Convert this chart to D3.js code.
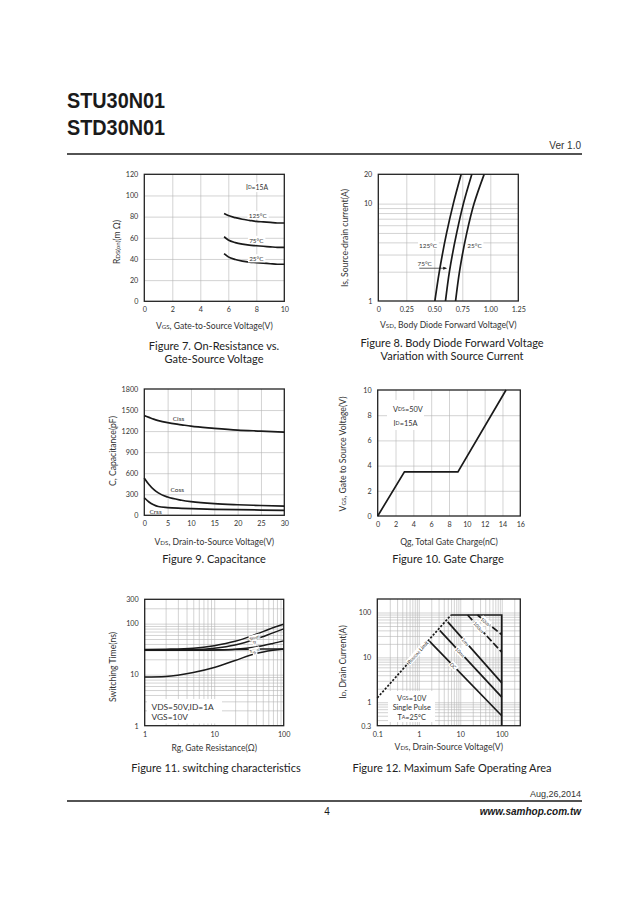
<!DOCTYPE html>
<html>
<head>
<meta charset="utf-8">
<script src="https://cdn.jsdelivr.net/npm/d3@7"></script>
<style>
  body { margin: 0; background: #fff; }
  svg { display: block; }
</style>
</head>
<body>
<svg id="page" width="638" height="903"></svg>
<script>
// ---------- data ----------
// Fig 7  RDS(on) vs VGS
const onVgs = [5.7, 6.0, 6.5, 7.0, 7.5, 8.0, 8.5, 9.0, 9.5, 10]
const onR125 = [83, 81, 79, 77.5, 76.5, 75.5, 75, 74.5, 74, 74]
const onR75 = [61, 58, 55.5, 54, 53, 52.5, 52, 51.5, 51, 51]
const onR25 = [45, 42, 39.5, 38, 37, 36.5, 36, 35.5, 35, 35]

// Fig 8  body diode
const diodeIs = [1, 2, 5, 10, 20]
const diodeV125 = [0.505, 0.545, 0.61, 0.67, 0.74]
const diodeV75 = [0.60, 0.635, 0.70, 0.76, 0.835]
const diodeV25 = [0.69, 0.725, 0.79, 0.855, 0.945]

// Fig 9  capacitance
const capVds = [0, 1, 2, 3, 5, 8, 10, 15, 20, 25, 30]
const capCiss = [1420, 1395, 1370, 1350, 1320, 1290, 1270, 1240, 1215, 1200, 1185]
const capCoss = [530, 440, 370, 320, 260, 215, 195, 165, 150, 140, 130]
const capCrss = [250, 190, 150, 125, 110, 100, 95, 85, 80, 75, 70]

// Fig 10  gate charge
const gateQg = [0, 3.0, 9.0, 14.4]
const gateVgs = [0, 3.5, 3.5, 10]

// Fig 11  switching
const swRg = [1, 2, 5, 10, 20, 40, 70, 100]
const swTdOff = [31, 31.5, 33, 37, 45, 62, 83, 97]
const swTf = [30, 30.5, 31, 33, 38, 50, 66, 79]
const swTdOn = [30, 30, 30, 30.5, 31.5, 35, 41, 46]
const swFlat = [30.5, 30.5, 30.5, 30.5, 31, 31.5, 32, 32]
const swTr = [9, 9.2, 11, 13.8, 19, 26, 30, 32]
const swNames = ['Td(off)', 'Tf', 'Td(on)', 'Tr']

// Fig 12  SOA
const soaLimitV = [0.1, 6.0]
const soaLimitI = [1.25, 88]
const soaMaxI = 88
const soaMaxV = 100
const soaNames = ['10us', '100us', '1ms', '10ms', 'DC']
const soaStartV = [26, 15, 5, 3.2, 1.8]
const soaStartI = [88, 88, 62, 40, 23]
const soaEndI = [32, 13, 2.7, 1.3, 0.5]

// ---------- page ----------
const svg = d3.select('#page')
const FONT = 'Lato, "Open Sans", sans-serif'
const GRID = '#b5b5b5'
const INK = '#1a1a1a'
const TITLE = 8.6

svg.append('rect').attr('width', 638).attr('height', 903).attr('fill', '#fff')

// header / footer
const head = svg.append('g').attr('font-family', '"Liberation Sans", Arial, sans-serif').attr('fill', INK)
head.append('text').attr('x', 67).attr('y', 108).attr('font-size', 21.5).attr('font-weight', 'bold')
  .attr('textLength', 98).attr('lengthAdjust', 'spacingAndGlyphs').text('STU30N01')
head.append('text').attr('x', 67).attr('y', 135).attr('font-size', 21.5).attr('font-weight', 'bold')
  .attr('textLength', 98).attr('lengthAdjust', 'spacingAndGlyphs').text('STD30N01')
head.append('text').attr('x', 581).attr('y', 149).attr('font-size', 10).attr('text-anchor', 'end')
  .attr('fill', '#333').text('Ver 1.0')
head.append('line').attr('x1', 67).attr('x2', 582).attr('y1', 154).attr('y2', 154)
  .attr('stroke', INK).attr('stroke-width', 1.6)
head.append('text').attr('x', 581).attr('y', 797).attr('font-size', 9).attr('text-anchor', 'end')
  .attr('fill', '#333').text('Aug,26,2014')
head.append('line').attr('x1', 67).attr('x2', 582).attr('y1', 801).attr('y2', 801)
  .attr('stroke', INK).attr('stroke-width', 1.6)
head.append('text').attr('x', 327).attr('y', 815).attr('font-size', 10).attr('text-anchor', 'middle').text('4')
head.append('text').attr('x', 581).attr('y', 815).attr('font-size', 10).attr('text-anchor', 'end')
  .attr('font-weight', 'bold').attr('font-style', 'italic').text('www.samhop.com.tw')

/**
 * 写入带下标的文字
 * parts: 字符串为普通文字，{s: '..'} 为小号下标
 */
function rich(sel, parts, size) {
  parts.forEach(p => {
    if (typeof p === 'string') sel.append('tspan').text(p)
    else sel.append('tspan').attr('font-size', size * 0.72).text(p.s)
  })
  return sel
}

// 文字后面垫白底，把网格线挡住
function backed(g, txt, pad) {
  const b = txt.node().getBBox()
  g.insert('rect', () => txt.node())
    .attr('x', b.x - pad).attr('y', b.y - pad * 0.5)
    .attr('width', b.width + pad * 2).attr('height', b.height + pad)
    .attr('fill', '#fff')
    .attr('transform', txt.attr('transform'))
}

/**
 * 绘制一个图框：网格、刻度文字、边框、坐标轴标题、图注
 */
function panel(opt) {
  const { x, y } = opt
  const [xl, xr] = x.range()
  const [yb, yt] = y.range()
  const g = svg.append('g').attr('font-family', FONT).attr('fill', INK)

  // 网格
  g.append('g').attr('transform', `translate(0,${yb})`)
    .call(d3.axisBottom(x).tickValues(opt.xGrid).tickSize(yt - yb).tickFormat(''))
    .call(s => s.select('.domain').remove())
    .call(s => s.selectAll('line').attr('stroke', GRID).attr('stroke-width', 0.6))
  g.append('g').attr('transform', `translate(${xl},0)`)
    .call(d3.axisLeft(y).tickValues(opt.yGrid).tickSize(xl - xr).tickFormat(''))
    .call(s => s.select('.domain').remove())
    .call(s => s.selectAll('line').attr('stroke', GRID).attr('stroke-width', 0.6))

  // 刻度文字
  g.append('g').attr('transform', `translate(0,${yb})`)
    .call(d3.axisBottom(x).tickValues(opt.xTicks).tickSize(0).tickPadding(6).tickFormat(opt.xFmt || (d => d)))
    .call(s => s.select('.domain').remove())
    .call(s => s.selectAll('text').attr('font-size', 7.2).attr('font-family', FONT).attr('fill', '#333'))
  g.append('g').attr('transform', `translate(${xl},0)`)
    .call(d3.axisLeft(y).tickValues(opt.yTicks).tickSize(0).tickPadding(6).tickFormat(opt.yFmt || (d => d)))
    .call(s => s.select('.domain').remove())
    .call(s => s.selectAll('text').attr('font-size', 7.2).attr('font-family', FONT).attr('fill', '#333'))

  // 边框
  g.append('rect').attr('x', xl).attr('y', yt).attr('width', xr - xl).attr('height', yb - yt)
    .attr('fill', 'none').attr('stroke', '#222').attr('stroke-width', 1.3)

  // 标题
  const cx = (xl + xr) / 2
  rich(g.append('text').attr('x', cx).attr('y', opt.xTitleY).attr('font-size', TITLE)
    .attr('text-anchor', 'middle').attr('fill', '#333'), opt.xTitle, TITLE)
  rich(g.append('text').attr('transform', `translate(${opt.yTitleX},${opt.yTitleY}) rotate(-90)`)
    .attr('font-size', TITLE).attr('text-anchor', 'middle').attr('fill', '#333'), opt.yTitle, TITLE)
  opt.caption.forEach((c, i) => {
    g.append('text').attr('x', opt.capX).attr('y', opt.capY + i * 13).attr('font-size', 11)
      .attr('text-anchor', 'middle').attr('fill', '#222').text(c)
  })

  // 画线的图层
  g.plot = g.append('g')
  return g
}

function curve(g, x, y, xs, ys, opt = {}) {
  const line = d3.line().x(d => x(d[0])).y(d => y(d[1])).curve(opt.curve || d3.curveMonotoneX)
  return g.append('path').datum(d3.zip(xs, ys)).attr('d', line)
    .attr('fill', 'none').attr('stroke', INK).attr('stroke-width', opt.w || 1.7)
    .attr('stroke-dasharray', opt.dash || null).attr('stroke-linecap', 'butt')
}

function label(g, px, py, parts, size, opt = {}) {
  const t = g.append('text').attr('x', px).attr('y', py).attr('font-size', size)
    .attr('text-anchor', opt.anchor || 'middle').attr('dominant-baseline', 'central').attr('fill', '#333')
  if (opt.rotate) t.attr('transform', `rotate(${opt.rotate},${px},${py})`)
  rich(t, parts, size)
  if (opt.back) backed(g, t, opt.back)
  return t
}

const lin = (a, b, s) => d3.range(a, b + s / 2, s)

// ---------- Figure 7 ----------
{
  const x = d3.scaleLinear([0, 10], [144.3, 284.3])
  const y = d3.scaleLinear([0, 120], [301.3, 174.3])
  const g = panel({
    x, y, xGrid: [2, 4, 6, 8], yGrid: lin(20, 100, 20), xTicks: lin(0, 10, 2), yTicks: lin(0, 120, 20),
    xTitle: ['V', { s: 'GS' }, ', Gate-to-Source Voltage(V)'], xTitleY: 329,
    yTitle: ['R', { s: 'DS(on)' }, '(m Ω)'], yTitleX: 120, yTitleY: 242,
    caption: ['Figure 7. On-Resistance vs.', 'Gate-Source Voltage'], capX: 214, capY: 350
  })
  ;[onR125, onR75, onR25].forEach(r => curve(g.plot, x, y, onVgs, r))
  label(g, x(8.05), y(107.7), ['I', { s: 'D' }, '=15A'], 6.8, { back: 1.5 })
  label(g, x(8.1), y(81.5), ['125°C'], 6.4, { back: 1.2 })
  label(g, x(8.0), y(58), ['75°C'], 6.4, { back: 1.2 })
  label(g, x(8.0), y(40.6), ['25°C'], 6.4, { back: 1.2 })
}

// ---------- Figure 8 ----------
{
  const x = d3.scaleLinear([0, 1.25], [378.3, 518.3])
  const y = d3.scaleLog([1, 20], [301, 174.3])
  const g = panel({
    x, y, xGrid: [0.25, 0.5, 0.75, 1.0], yGrid: y.ticks().filter(d => d > 1 && d < 20),
    xTicks: lin(0, 1.25, 0.25), yTicks: [1, 10, 20],
    xFmt: d => d === 0 ? '0' : d3.format('.2f')(d), yFmt: d3.format('d'),
    xTitle: ['V', { s: 'SD' }, ', Body Diode Forward Voltage(V)'], xTitleY: 328,
    yTitle: ['Is, Source-drain current(A)'], yTitleX: 348, yTitleY: 238,
    caption: ['Figure 8. Body Diode Forward Voltage', 'Variation with Source Current'], capX: 452, capY: 347
  })
  ;[diodeV125, diodeV75, diodeV25].forEach(v =>
    curve(g.plot, x, y, v, diodeIs, { curve: d3.curveMonotoneY }))
  label(g, x(0.444), y(3.76), ['125°C'], 6.4, { back: 1 })
  label(g, x(0.859), y(3.76), ['25°C'], 6.4, { back: 1 })
  label(g, x(0.414), y(2.45), ['75°C'], 6.4, { back: 1 })
  const ay = y(2.17)
  g.append('line').attr('x1', x(0.366)).attr('x2', x(0.60)).attr('y1', ay).attr('y2', ay)
    .attr('stroke', INK).attr('stroke-width', 0.7)
  g.append('path').attr('d', `M${x(0.615)},${ay}l-4,-1.6v3.2z`).attr('fill', INK)
}

// ---------- Figure 9 ----------
{
  const x = d3.scaleLinear([0, 30], [144.3, 284.3])
  const y = d3.scaleLinear([0, 1800], [515.3, 389])
  const g = panel({
    x, y, xGrid: lin(5, 25, 5), yGrid: lin(300, 1500, 300), xTicks: lin(0, 30, 5), yTicks: lin(0, 1800, 300),
    xTitle: ['V', { s: 'DS' }, ', Drain-to-Source Voltage(V)'], xTitleY: 545,
    yTitle: ['C, Capacitance(pF)'], yTitleX: 116, yTitleY: 451,
    caption: ['Figure 9. Capacitance'], capX: 214, capY: 563
  })
  ;[capCiss, capCoss, capCrss].forEach(c => curve(g.plot, x, y, capVds, c))
  label(g, x(6.1), y(1392), ['Ciss'], 6.5, { anchor: 'start' })
  label(g, x(5.6), y(375), ['Coss'], 6.5, { anchor: 'start' })
  label(g, x(1.1), y(62), ['Crss'], 6.5, { anchor: 'start' })
}

// ---------- Figure 10 ----------
{
  const x = d3.scaleLinear([0, 16], [377.7, 520.3])
  const y = d3.scaleLinear([0, 10], [516, 390])
  const g = panel({
    x, y, xGrid: lin(2, 14, 2), yGrid: lin(2, 8, 2), xTicks: lin(0, 16, 2), yTicks: lin(0, 10, 2),
    xTitle: ['Qg, Total Gate Charge(nC)'], xTitleY: 545,
    yTitle: ['V', { s: 'GS' }, ', Gate to Source Voltage(V)'], yTitleX: 346, yTitleY: 454,
    caption: ['Figure 10. Gate Charge'], capX: 448, capY: 563
  })
  curve(g.plot, x, y, gateQg, gateVgs, { curve: d3.curveLinear })
  g.append('rect').attr('x', 387).attr('y', 400).attr('width', 37).attr('height', 30).attr('fill', '#fff')
  label(g, 393, 409, ['V', { s: 'DS' }, '=50V'], 7.4, { anchor: 'start' })
  label(g, 393.5, 422.5, ['I', { s: 'D' }, '=15A'], 7.4, { anchor: 'start' })
}

// ---------- Figure 11 ----------
{
  const x = d3.scaleLog([1, 100], [144.7, 283.7])
  const y = d3.scaleLog([1, 300], [725.7, 599.3])
  const g = panel({
    x, y, xGrid: x.ticks().filter(d => d > 1 && d < 100), yGrid: y.ticks().filter(d => d > 1 && d < 300),
    xTicks: [1, 10, 100], yTicks: [1, 10, 100, 300], xFmt: d3.format('d'), yFmt: d3.format('d'),
    xTitle: ['Rg, Gate Resistance(Ω)'], xTitleY: 751,
    yTitle: ['Switching Time(ns)'], yTitleX: 116, yTitleY: 667,
    caption: ['Figure 11. switching characteristics'], capX: 216, capY: 772
  })
  ;[swTdOff, swTf, swTdOn, swFlat, swTr].forEach(t => curve(g.plot, x, y, swRg, t, { w: 1.5 }))
  const lab = [swTdOff, swTf, swTdOn, swFlat]
  lab.forEach((t, i) => {
    const px = x(38), py = y(t[5]) + 3.2
    label(g, px, py, [swNames[i]], 3.8, { rotate: -14, back: 0.4 })
  })
  g.append('rect').attr('x', 147).attr('y', 699).attr('width', 75).attr('height', 24.5).attr('fill', '#fff')
  label(g, 151.5, 706.5, ['VDS=50V,ID=1A'], 8.4, { anchor: 'start' })
  label(g, 151.5, 716.5, ['VGS=10V'], 8.4, { anchor: 'start' })
}

// ---------- Figure 12 ----------
{
  const x = d3.scaleLog([0.1, 280], [377.3, 520.3])
  const y = d3.scaleLog([0.3, 200], [725.7, 599])
  const g = panel({
    x, y, xGrid: x.ticks().filter(d => d > 0.1 && d < 280), yGrid: y.ticks().filter(d => d > 0.3 && d < 200),
    xTicks: [0.1, 1, 10, 100], yTicks: [0.3, 1, 10, 100], xFmt: d => String(d), yFmt: d => String(d),
    xTitle: ['V', { s: 'DS' }, ', Drain-Source Voltage(V)'], xTitleY: 749.5,
    yTitle: ['I', { s: 'D' }, ', Drain Current(A)'], yTitleX: 346, yTitleY: 662,
    caption: ['Figure 12. Maximum Safe Operating Area'], capX: 452, capY: 772
  })
  // Rds(on) limit
  curve(g.plot, x, y, soaLimitV, soaLimitI, { curve: d3.curveLinear, dash: '2.2,1.6', w: 1.7 })
  // 包络
  curve(g.plot, x, y, [soaLimitV[1], soaMaxV, soaMaxV], [soaMaxI, soaMaxI, 0.3],
    { curve: d3.curveLinear, w: 1.7 })
  soaNames.forEach((n, i) => {
    const xs = [soaStartV[i], soaMaxV], ys = [soaStartI[i], soaEndI[i]]
    curve(g.plot, x, y, xs, ys, { curve: d3.curveLinear, w: 1.7, dash: i < 2 ? '7,2.5' : null })
    const x0 = x(xs[0]), y0 = y(ys[0]), x1 = x(xs[1]), y1 = y(ys[1])
    const t = 0.33
    const ang = Math.atan2(y1 - y0, x1 - x0) * 180 / Math.PI
    label(g, x0 + (x1 - x0) * t, y0 + (y1 - y0) * t, [n], 4.8, { rotate: ang, back: 0.6 })
  })
  {
    const x0 = x(soaLimitV[0]), y0 = y(soaLimitI[0]), x1 = x(soaLimitV[1]), y1 = y(soaLimitI[1])
    const ang = Math.atan2(y1 - y0, x1 - x0) * 180 / Math.PI
    label(g, x0 + (x1 - x0) * 0.55, y0 + (y1 - y0) * 0.55, ['R', { s: 'DS(ON)' }, ' Limit'], 5.2, { rotate: ang, back: 0.6 })
  }
  g.append('rect').attr('x', 388).attr('y', 691).attr('width', 47).attr('height', 31).attr('fill', '#fff')
  label(g, 411.7, 698.3, ['V', { s: 'GS' }, '=10V'], 7.3, {})
  label(g, 411.7, 707.3, ['Single Pulse'], 7.3, {})
  label(g, 411.7, 716.5, ['T', { s: 'A' }, '=25°C'], 7.3, {})
}
</script>
</body>
</html>
